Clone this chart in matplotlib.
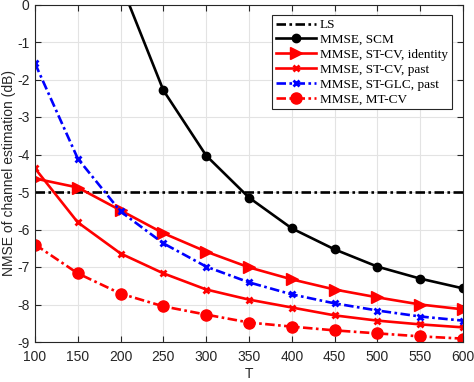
import matplotlib.pyplot as plt
import numpy as np

T = [100, 150, 200, 250, 300, 350, 400, 450, 500, 550, 600]

ls_nmse = [-5.0] * len(T)
# SCM curve starts above the top of the axes
T_scm = [200, 250, 300, 350, 400, 450, 500, 550, 600]
scm = [0.57, -2.29, -4.03, -5.15, -5.97, -6.53, -6.99, -7.31, -7.57]
stcv_identity = [-4.64, -4.88, -5.49, -6.10, -6.59, -7.01, -7.33, -7.60, -7.81, -8.00, -8.13]
stcv_past = [-4.37, -5.81, -6.64, -7.17, -7.60, -7.87, -8.08, -8.29, -8.43, -8.53, -8.61]
stglc_past = [-1.57, -4.11, -5.52, -6.37, -6.99, -7.41, -7.73, -7.97, -8.16, -8.32, -8.43]
mtcv = [-6.40, -7.17, -7.71, -8.05, -8.27, -8.48, -8.59, -8.69, -8.77, -8.85, -8.91]

plt.rcParams['font.family'] = ['Liberation Sans', 'DejaVu Sans']
plt.rcParams['axes.unicode_minus'] = False

fig = plt.figure(figsize=(4.74, 3.82), dpi=100)
ax = fig.add_axes([35 / 474, 40 / 382, 428 / 474, 337.5 / 382])

lw = 1.9
dashdot = (0, (3.6, 1.3, 1.0, 1.3))
ax.plot(T, ls_nmse, color='black', linestyle=dashdot, linewidth=lw, label='LS')
ax.plot(T_scm, scm, color='black', linewidth=lw, marker='o', markersize=6, label='MMSE, SCM')
ax.plot(T, stcv_identity, color='red', linewidth=lw, marker='>', markersize=9, label='MMSE, ST-CV, identity')
ax.plot(T, stcv_past, color='red', linewidth=lw, marker='x', markersize=5, markeredgewidth=2,
        label='MMSE, ST-CV, past')
ax.plot(T, stglc_past, color='blue', linewidth=lw, linestyle=dashdot, marker='x',
        markersize=5, markeredgewidth=2, label='MMSE, ST-GLC, past')
ax.plot(T, mtcv, color='red', linewidth=lw, linestyle=dashdot, marker='o',
        markersize=8, label='MMSE, MT-CV')

ax.set_xlim(100, 600)
ax.set_ylim(-9, 0)
ax.set_xticks(range(100, 601, 50))
ax.set_yticks(range(-9, 1))
ax.grid(True, color='#e3e3e3', linewidth=0.8)
ax.tick_params(direction='in', top=True, right=True, labelsize=10, colors='#262626', length=4, pad=4)
ax.tick_params(axis='x', pad=6)
for s in ax.spines.values():
    s.set_color('#262626')
    s.set_linewidth(0.8)

ax.set_xlabel('T', fontsize=10, color='#262626', labelpad=2)
ax.set_ylabel('NMSE of channel estimation (dB)', fontsize=10, color='#262626', labelpad=1)

leg = ax.legend(loc='upper right', bbox_to_anchor=(0.974, 0.969),
                prop={'family': 'Liberation Serif', 'size': 9.5},
                frameon=True, fancybox=False, edgecolor='#262626', framealpha=1,
                handlelength=3.0, handletextpad=0.3, borderpad=0.3, labelspacing=0.2,
                borderaxespad=0)
leg.get_frame().set_linewidth(0.8)

fig.savefig('out.png', dpi=100)
